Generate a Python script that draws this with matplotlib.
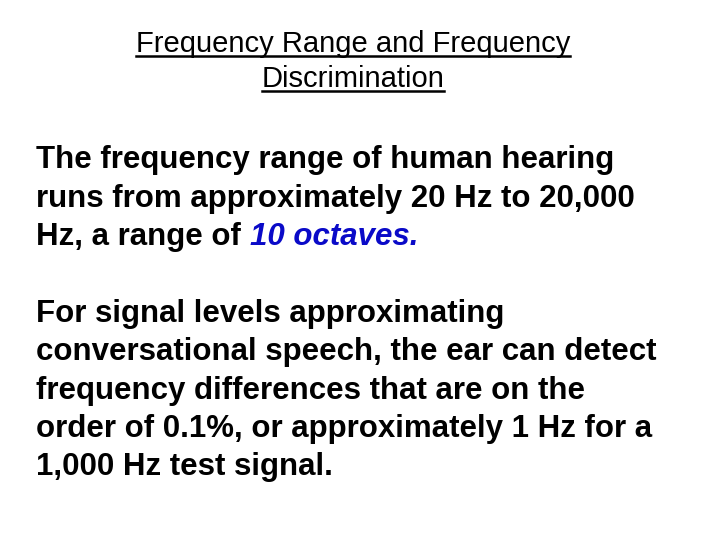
import numpy as np
import matplotlib
matplotlib.use('Agg')
import matplotlib.pyplot as plt
from matplotlib.lines import Line2D

# slide text, kept as plain lists
title_lines = ['Frequency Range and Frequency', 'Discrimination']
para1_lines = ['The frequency range of human hearing',
               'runs from approximately 20 Hz to 20,000',
               'Hz, a range of ']
para1_highlight = '10 octaves.'
para2_lines = ['For signal levels approximating',
               'conversational speech, the ear can detect',
               'frequency differences that are on the',
               'order of 0.1%, or approximately 1 Hz for a',
               '1,000 Hz test signal.']

plt.rcParams['font.family'] = ['Liberation Sans', 'DejaVu Sans']

fig = plt.figure(figsize=(7.2, 5.4), dpi=100)
ax = fig.add_axes([0, 0, 1, 1])
ax.set_xlim(0, 720)
ax.set_ylim(540, 0)
ax.axis('off')

# title, centred and underlined
title_y = [52, 87]
title_txt = []
for s, y in zip(title_lines, title_y):
    t = ax.text(353, y, s, fontsize=21, ha='center', va='baseline', color='black')
    title_txt.append((t, y))

# body paragraphs
x0 = 36
p1_y = [168, 206.5, 245]
p2_y = [322, 360, 398.5, 437, 475]
body_fs = 22.5
last = None
for s, y in zip(para1_lines, p1_y):
    last = ax.text(x0, y, s, fontsize=body_fs, fontweight='bold', ha='left', va='baseline')
for s, y in zip(para2_lines, p2_y):
    ax.text(x0, y, s, fontsize=body_fs, fontweight='bold', ha='left', va='baseline')

fig.canvas.draw()
r = fig.canvas.get_renderer()
inv = ax.transData.inverted()

# blue italic part after "Hz, a range of " (trailing space already in extent)
bb = last.get_window_extent(r)
xe = inv.transform((bb.x1, bb.y0))[0]
ax.text(xe, p1_y[2], para1_highlight, fontsize=body_fs, fontweight='bold',
        fontstyle='italic', color='#0a0ac8', ha='left', va='baseline')

for t, y in title_txt:
    b = t.get_window_extent(r)
    xa = inv.transform((b.x0, b.y0))[0]
    xb = inv.transform((b.x1, b.y0))[0]
    ax.add_line(Line2D([xa, xb], [y + 4, y + 4], color='black', lw=1.8))

fig.savefig('out.png', dpi=100, facecolor='white')
